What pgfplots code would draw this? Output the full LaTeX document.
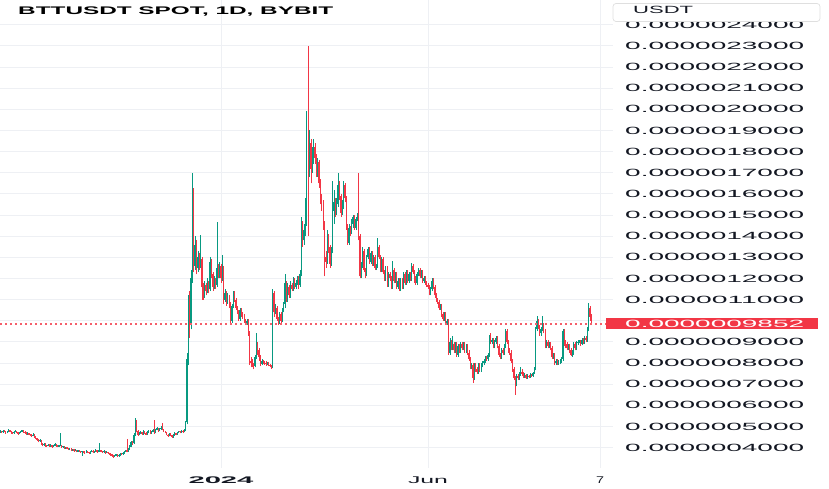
\documentclass[border=0pt]{standalone}
\usepackage{pgfplots}
\usepackage{pgfplotstable}
\pgfplotsset{compat=1.18}
\usepackage{fontspec}
\setmainfont{Liberation Sans}
\usepackage{graphicx}
\definecolor{upc}{HTML}{089981}
\definecolor{dnc}{HTML}{F23645}
\definecolor{gridc}{HTML}{EEF0F4}
\definecolor{txtc}{HTML}{131722}

% daily candles: open high low close (price in units of 1e-7 USDT); first row = day -162 (2024-01-01 = day 0)
\pgfplotstableread[row sep=\\]{
o h l c\\
4.74 4.82 4.71 4.78\\ 4.78 4.80 4.69 4.72\\ 4.72 4.84 4.70 4.80\\ 4.80 4.83 4.73 4.76\\ 4.76 4.78 4.66 4.70\\ 4.70 4.79 4.68 4.74\\
4.74 4.90 4.72 4.82\\ 4.82 4.85 4.73 4.76\\ 4.76 4.78 4.67 4.70\\ 4.70 4.74 4.63 4.68\\ 4.68 4.78 4.66 4.74\\ 4.74 4.83 4.72 4.78\\
4.78 4.80 4.69 4.72\\ 4.72 4.74 4.62 4.66\\ 4.66 4.75 4.64 4.70\\ 4.70 4.80 4.68 4.76\\ 4.76 4.86 4.74 4.80\\ 4.80 4.82 4.71 4.74\\
4.74 4.77 4.66 4.70\\ 4.70 4.72 4.60 4.64\\ 4.64 4.73 4.62 4.68\\ 4.68 4.70 4.58 4.62\\ 4.62 4.66 4.55 4.60\\ 4.60 4.63 4.50 4.55\\
4.55 4.68 4.53 4.62\\ 4.62 4.64 4.46 4.50\\ 4.50 4.53 4.40 4.44\\ 4.44 4.47 4.33 4.38\\ 4.38 4.41 4.25 4.30\\ 4.30 4.40 4.27 4.35\\
4.35 4.37 4.15 4.20\\ 4.20 4.23 4.06 4.12\\ 4.12 4.24 4.10 4.18\\ 4.18 4.20 4.05 4.10\\ 4.10 4.14 4.03 4.08\\ 4.08 4.19 4.06 4.14\\
4.14 4.16 4.02 4.06\\ 4.06 4.17 4.04 4.12\\ 4.12 4.14 4.00 4.04\\ 4.04 4.15 4.02 4.10\\ 4.10 4.20 4.08 4.15\\ 4.15 4.17 4.04 4.08\\
4.08 4.11 4.01 4.05\\ 4.05 4.14 4.03 4.10\\ 4.10 4.70 4.06 4.12\\ 4.12 4.14 3.98 4.02\\ 4.02 4.09 3.99 4.05\\ 4.05 4.07 3.94 3.98\\
3.98 4.04 3.95 4.00\\ 4.00 4.03 3.92 3.96\\ 3.96 3.99 3.88 3.92\\ 3.92 3.99 3.89 3.95\\ 3.95 3.97 3.84 3.88\\ 3.88 3.96 3.86 3.92\\
3.92 3.94 3.81 3.85\\ 3.85 3.92 3.83 3.88\\ 3.88 3.90 3.78 3.82\\ 3.82 3.90 3.80 3.86\\ 3.86 3.89 3.80 3.84\\ 3.84 3.86 3.74 3.78\\
3.78 3.86 3.62 3.82\\ 3.82 3.85 3.76 3.80\\ 3.80 3.83 3.72 3.76\\ 3.76 3.87 3.74 3.83\\ 3.83 3.86 3.75 3.79\\ 3.79 3.81 3.70 3.74\\
3.74 3.84 3.72 3.80\\ 3.80 3.90 3.78 3.85\\ 3.85 3.87 3.74 3.78\\ 3.78 3.86 3.76 3.82\\ 3.82 3.93 3.80 3.88\\ 3.88 3.90 3.76 3.80\\
3.80 3.88 3.78 3.84\\ 3.84 4.22 3.80 3.86\\ 3.86 3.89 3.78 3.82\\ 3.82 3.85 3.74 3.78\\ 3.78 3.88 3.76 3.84\\ 3.84 3.86 3.72 3.76\\
3.76 3.84 3.73 3.80\\ 3.80 3.82 3.70 3.74\\ 3.74 3.77 3.66 3.70\\ 3.70 3.73 3.62 3.66\\ 3.66 3.69 3.58 3.62\\ 3.62 3.65 3.52 3.58\\
3.58 3.66 3.55 3.62\\ 3.62 3.70 3.60 3.66\\ 3.66 3.68 3.56 3.60\\ 3.60 3.68 3.58 3.64\\ 3.64 3.74 3.62 3.70\\ 3.70 3.73 3.64 3.68\\
3.68 3.78 3.66 3.74\\ 3.74 3.84 3.72 3.80\\ 3.80 3.90 3.78 3.86\\ 3.86 4.40 3.78 3.82\\ 3.82 3.98 3.80 3.92\\ 3.92 4.12 3.90 4.05\\
4.05 4.32 4.02 4.25\\ 4.25 4.30 4.14 4.20\\ 4.20 4.70 4.18 4.60\\ 4.60 5.42 4.55 5.25\\ 5.25 5.30 4.72 4.80\\ 4.80 4.86 4.56 4.62\\
4.62 4.75 4.58 4.68\\ 4.68 4.78 4.64 4.72\\ 4.72 4.75 4.60 4.65\\ 4.65 4.84 4.62 4.78\\ 4.78 4.81 4.66 4.70\\ 4.70 4.73 4.58 4.62\\
4.62 4.80 4.60 4.74\\ 4.74 4.86 4.70 4.80\\ 4.80 4.83 4.64 4.68\\ 4.68 4.80 4.65 4.75\\ 4.75 4.88 4.72 4.82\\ 4.82 5.31 4.66 4.70\\
4.70 4.90 4.68 4.85\\ 4.85 4.98 4.82 4.92\\ 4.92 4.95 4.76 4.80\\ 4.80 4.93 4.77 4.88\\ 4.88 5.01 4.85 4.95\\ 4.95 5.17 4.82 4.86\\
4.86 4.89 4.74 4.78\\ 4.78 4.81 4.68 4.72\\ 4.72 4.75 4.58 4.62\\ 4.62 4.65 4.50 4.55\\ 4.55 4.71 4.53 4.66\\ 4.66 4.69 4.54 4.58\\
4.58 4.61 4.46 4.50\\ 4.50 4.65 4.48 4.60\\ 4.60 4.73 4.57 4.68\\ 4.68 4.71 4.58 4.62\\ 4.62 4.75 4.60 4.70\\ 4.70 4.81 4.68 4.76\\
4.76 4.79 4.68 4.72\\ 4.72 4.85 4.70 4.80\\ 4.80 4.83 4.70 4.74\\ 4.74 4.88 4.72 4.82\\ 4.82 5.26 4.78 5.20\\
5.20 8.50 5.10 8.20\\ 8.20 11.20 7.90 11.00\\ 11.00 11.40 9.20 9.80\\ 9.80 12.40 9.60 12.00\\ 12.00 17.00 11.80 16.00\\ 16.00 16.30 12.30 12.60\\
12.60 14.00 12.40 13.60\\ 13.60 13.80 12.20 12.50\\ 12.50 13.30 12.30 13.00\\ 13.00 13.20 12.40 12.70\\ 12.70 14.05 12.50 12.90\\ 12.90 13.00 11.00 11.60\\
11.60 11.80 11.00 11.30\\ 11.30 11.90 11.10 11.70\\ 11.70 11.80 11.20 11.40\\ 11.40 12.00 11.30 11.80\\ 11.80 11.90 11.30 11.50\\ 11.50 13.00 11.40 12.80\\
12.80 12.90 12.00 12.20\\ 12.20 12.30 11.40 11.60\\ 11.60 12.10 11.50 11.90\\ 11.90 12.00 11.50 11.70\\ 11.70 14.65 11.60 12.50\\ 12.50 12.70 12.00 12.20\\
12.20 12.80 12.00 12.60\\ 12.60 12.70 11.80 12.00\\ 12.00 13.10 11.90 12.50\\ 12.50 12.60 10.80 11.00\\ 11.00 11.50 10.90 11.30\\ 11.30 11.40 10.70 10.90\\
10.90 11.30 10.80 11.10\\ 11.10 11.20 10.60 10.80\\ 10.80 10.90 9.85 10.00\\ 10.00 10.80 9.90 10.70\\ 10.70 11.40 10.60 11.30\\ 11.30 11.40 10.90 11.00\\
11.00 11.10 10.50 10.60\\ 10.60 10.70 10.30 10.40\\ 10.40 10.50 10.00 10.10\\ 10.10 10.60 10.00 10.50\\ 10.50 10.60 10.20 10.30\\ 10.30 10.40 10.10 10.20\\
10.20 10.30 9.90 10.00\\ 10.00 10.10 9.80 9.90\\ 9.90 10.10 9.80 10.00\\ 10.00 10.10 9.30 9.40\\ 9.40 9.50 7.90 8.10\\ 8.10 8.30 7.80 8.00\\
8.00 8.20 7.80 7.90\\ 7.90 8.00 7.70 7.85\\ 7.85 8.40 7.80 8.30\\ 8.30 9.40 8.20 8.90\\ 8.90 9.00 8.40 8.60\\ 8.60 8.70 8.10 8.30\\
8.30 8.40 7.85 7.95\\ 7.95 8.20 7.90 8.10\\ 8.10 8.15 7.95 8.05\\ 8.05 8.10 7.92 8.00\\ 8.00 8.08 7.88 7.95\\ 7.95 8.06 7.90 8.00\\
8.00 8.05 7.84 7.90\\ 7.90 7.95 7.80 7.85\\ 7.85 7.90 7.72 7.78\\ 7.78 11.50 7.75 11.30\\ 11.30 11.40 10.20 10.40\\ 10.40 10.80 10.30 10.60\\
10.60 10.70 10.00 10.10\\ 10.10 10.20 9.80 9.90\\ 9.90 10.40 9.85 10.30\\ 10.30 10.40 9.90 10.00\\ 10.00 10.60 9.95 10.50\\ 10.50 10.90 10.40 10.80\\
10.80 12.20 10.60 11.80\\ 11.80 11.90 10.90 11.00\\ 11.00 11.80 10.90 11.60\\ 11.60 11.70 11.10 11.20\\ 11.20 11.90 11.10 11.70\\ 11.70 11.80 11.40 11.50\\
11.50 12.05 11.40 11.90\\ 11.90 12.00 11.50 11.60\\ 11.60 11.95 11.50 11.80\\ 11.80 12.10 11.70 12.00\\ 12.00 12.10 11.50 11.70\\ 11.70 12.40 11.60 12.20\\
12.20 14.90 12.10 14.60\\ 14.60 14.70 13.50 13.80\\ 13.80 14.60 13.60 14.30\\ 14.30 15.80 14.00 15.60\\ 15.60 19.90 14.50 19.60\\ 19.60 23.00 14.00 17.50\\
17.50 19.00 16.80 18.40\\ 18.40 18.60 16.50 17.20\\ 17.20 18.20 17.00 17.60\\ 17.60 18.60 17.40 18.20\\ 18.20 18.40 17.40 17.70\\ 17.70 17.90 16.80 17.00\\
17.00 17.70 16.80 17.50\\ 17.50 17.60 16.30 16.50\\ 16.50 16.70 15.50 15.80\\ 15.80 16.00 15.20 15.50\\ 15.50 15.70 14.30 14.50\\ 14.50 14.70 12.10 13.00\\
13.00 13.30 12.50 12.80\\ 12.80 14.30 12.70 13.90\\ 13.90 14.10 13.20 13.50\\ 13.50 13.60 12.50 12.70\\ 12.70 13.50 12.60 13.30\\ 13.30 16.60 13.20 15.20\\
15.20 16.20 14.60 15.60\\ 15.60 15.80 14.90 15.20\\ 15.20 15.80 15.00 15.50\\ 15.50 17.00 15.40 16.40\\ 16.40 16.60 15.70 15.90\\ 15.90 16.00 14.90 15.10\\
15.10 15.70 15.00 15.40\\ 15.40 16.60 15.30 16.40\\ 16.40 16.50 15.60 15.80\\ 15.80 15.90 14.30 14.50\\ 14.50 14.60 13.60 13.70\\ 13.70 14.60 13.60 14.40\\
14.40 14.50 14.00 14.20\\ 14.20 14.80 14.10 14.60\\ 14.60 15.00 14.40 14.90\\ 14.90 15.00 14.30 14.40\\ 14.40 14.90 14.30 14.80\\ 14.80 15.10 14.70 15.00\\
15.00 17.00 13.80 14.00\\ 14.00 14.10 12.00 12.10\\ 12.10 12.80 12.00 12.60\\ 12.60 13.50 12.50 13.30\\ 13.30 13.40 12.30 12.40\\ 12.40 12.50 12.00 12.20\\
12.20 13.10 12.10 13.00\\ 13.00 13.50 12.90 13.40\\ 13.40 13.50 12.70 12.80\\ 12.80 13.30 12.70 13.20\\ 13.20 13.30 12.60 12.70\\ 12.70 13.10 12.60 13.00\\
13.00 13.10 12.40 12.50\\ 12.50 12.70 12.40 12.60\\ 12.60 13.90 12.50 13.50\\ 13.50 13.60 12.90 13.00\\ 13.00 13.10 12.30 12.40\\ 12.40 13.00 12.30 12.90\\
12.90 13.00 12.20 12.30\\ 12.30 12.40 11.90 12.00\\ 12.00 12.60 11.90 12.50\\ 12.50 12.60 11.60 11.70\\ 11.70 12.30 11.60 12.20\\ 12.20 12.30 11.90 12.00\\
12.00 12.10 11.50 11.60\\ 11.60 12.85 11.50 12.40\\ 12.40 12.50 11.80 11.90\\ 11.90 12.30 11.80 12.20\\ 12.20 12.30 11.50 11.60\\ 11.60 12.00 11.50 11.90\\
11.90 12.00 11.40 11.50\\ 11.50 12.00 11.40 11.90\\ 11.90 12.00 11.50 11.60\\ 11.60 12.30 11.50 12.20\\ 12.20 12.30 11.70 11.80\\ 11.80 12.40 11.70 12.30\\
12.30 12.40 11.80 11.90\\ 11.90 12.30 11.80 12.20\\ 12.20 12.30 11.90 12.00\\ 12.00 12.75 11.90 12.60\\ 12.60 12.70 12.20 12.30\\ 12.30 12.40 11.80 12.00\\
12.00 12.10 11.70 11.80\\ 11.80 12.30 11.70 12.20\\ 12.20 12.50 12.10 12.40\\ 12.40 12.50 12.00 12.10\\ 12.10 12.40 12.00 12.30\\ 12.30 12.40 11.80 11.90\\
11.90 12.10 11.80 12.00\\ 12.00 12.10 11.70 11.80\\ 11.80 11.90 11.60 11.70\\ 11.70 11.80 11.50 11.60\\ 11.60 11.70 11.20 11.30\\ 11.30 11.60 11.20 11.50\\
11.50 12.00 11.40 11.90\\ 11.90 12.00 11.50 11.60\\ 11.60 11.70 11.10 11.20\\ 11.20 11.30 10.90 11.00\\ 11.00 11.10 10.80 10.90\\ 10.90 11.00 10.50 10.60\\
10.60 10.80 10.50 10.70\\ 10.70 10.80 10.20 10.30\\ 10.30 10.40 10.00 10.10\\ 10.10 10.40 10.00 10.30\\ 10.30 10.40 9.80 9.90\\ 9.90 10.10 9.80 10.00\\
10.00 10.10 8.40 8.50\\ 8.50 9.20 8.40 9.00\\ 9.00 9.10 8.60 8.70\\ 8.70 9.30 8.60 8.90\\ 8.90 9.00 8.50 8.60\\ 8.60 9.00 8.50 8.90\\
8.90 9.00 8.30 8.40\\ 8.40 8.90 8.30 8.80\\ 8.80 8.90 8.50 8.60\\ 8.60 9.00 8.50 8.90\\ 8.90 9.00 8.60 8.70\\ 8.70 9.00 8.60 8.90\\
8.90 9.00 8.50 8.60\\ 8.60 8.90 8.50 8.80\\ 8.80 8.90 8.40 8.50\\ 8.50 8.60 8.10 8.20\\ 8.20 8.30 7.70 7.80\\ 7.80 8.00 7.70 7.90\\
7.90 8.00 7.05 7.30\\ 7.30 8.00 7.20 7.90\\ 7.90 8.00 7.60 7.70\\ 7.70 7.80 7.50 7.60\\ 7.60 8.00 7.50 7.90\\ 7.90 8.00 7.60 7.70\\
7.70 8.00 7.60 7.90\\ 7.90 8.10 7.80 8.00\\ 8.00 8.20 7.90 8.10\\ 8.10 8.35 8.00 8.25\\ 8.25 8.35 8.10 8.20\\ 8.20 8.50 8.10 8.40\\
8.40 9.35 8.30 9.30\\ 9.30 9.40 8.90 9.00\\ 9.00 9.20 8.90 9.10\\ 9.10 9.20 8.70 8.80\\ 8.80 9.10 8.70 9.00\\ 9.00 9.30 8.90 9.20\\
9.20 9.30 8.70 8.80\\ 8.80 8.90 8.30 8.40\\ 8.40 8.50 8.20 8.30\\ 8.30 8.70 8.20 8.60\\ 8.60 8.70 8.40 8.50\\ 8.50 8.90 8.40 8.80\\
8.80 9.60 8.70 9.50\\ 9.50 9.60 8.90 9.00\\ 9.00 9.10 8.50 8.60\\ 8.60 8.70 8.40 8.50\\ 8.50 8.60 8.00 8.10\\ 8.10 8.20 7.60 7.70\\
7.70 7.80 7.20 7.30\\ 7.30 7.40 6.50 7.00\\ 7.00 7.50 6.90 7.40\\ 7.40 7.50 7.20 7.30\\ 7.30 7.60 7.20 7.50\\ 7.50 7.80 7.40 7.60\\
7.60 7.70 7.40 7.50\\ 7.50 7.60 7.30 7.35\\ 7.35 7.55 7.30 7.45\\ 7.45 7.50 7.25 7.30\\ 7.30 7.50 7.25 7.40\\ 7.40 7.45 7.28 7.35\\
7.35 7.52 7.30 7.45\\ 7.45 7.50 7.33 7.40\\ 7.40 7.60 7.35 7.55\\ 7.55 7.80 7.50 7.70\\ 7.70 9.70 7.65 9.60\\ 9.60 10.25 9.50 10.00\\
10.00 10.10 9.60 9.70\\ 9.70 9.80 9.30 9.40\\ 9.40 9.70 9.30 9.60\\ 9.60 10.25 9.50 9.80\\ 9.80 9.90 9.40 9.50\\ 9.50 9.60 8.70 8.80\\
8.80 9.10 8.70 9.00\\ 9.00 9.10 8.70 8.80\\ 8.80 9.00 8.70 8.90\\ 8.90 9.00 8.60 8.70\\ 8.70 8.80 8.20 8.30\\ 8.30 8.50 8.20 8.40\\
8.40 8.50 7.90 8.00\\ 8.00 8.20 7.90 8.10\\ 8.10 8.20 7.90 8.00\\ 8.00 8.15 7.92 8.05\\ 8.05 8.20 7.95 8.10\\ 8.10 8.30 8.00 8.20\\
8.20 9.60 8.10 9.50\\ 9.50 9.60 8.80 9.00\\ 9.00 9.10 8.70 8.90\\ 8.90 9.00 8.60 8.70\\ 8.70 8.90 8.60 8.80\\ 8.80 8.90 8.50 8.60\\
8.60 8.70 8.35 8.40\\ 8.40 8.60 8.30 8.50\\ 8.50 9.00 8.40 8.90\\ 8.90 9.00 8.60 8.70\\ 8.70 9.05 8.60 8.95\\ 8.95 9.10 8.85 9.00\\
9.00 9.10 8.95 9.05\\ 9.05 9.10 8.80 8.90\\ 8.90 9.20 8.85 9.10\\ 9.10 9.20 8.90 9.00\\ 9.00 9.30 8.90 9.20\\ 9.20 9.30 9.00 9.10\\
9.10 9.70 9.00 9.60\\ 9.60 10.85 9.50 10.60\\ 10.60 10.70 10.00 10.20\\ 10.20 10.30 9.80 9.852\\
}\candles

\newcommand{\pl}[1]{\resizebox{179pt}{7.3pt}{#1}}

\begin{document}
\begin{tikzpicture}[x=1pt,y=1pt]
\path[use as bounding box] (0,0) rectangle (829,489);
\begin{axis}[
  at={(0pt,21pt)}, anchor=south west,
  scale only axis, width=613pt, height=468pt,
  xmin=-162.26, xmax=287.8, ymin=3.04, ymax=25.168,
  axis line style={draw=none},
  major tick length=0pt,
  ytick={4,5,...,24},
  yticklabels={\pl{0.0000004000},\pl{0.0000005000},\pl{0.0000006000},\pl{0.0000007000},\pl{0.0000008000},\pl{0.0000009000},{},\pl{0.0000011000},\pl{0.0000012000},\pl{0.0000013000},\pl{0.0000014000},\pl{0.0000015000},\pl{0.0000016000},\pl{0.0000017000},\pl{0.0000018000},\pl{0.0000019000},\pl{0.0000020000},\pl{0.0000021000},\pl{0.0000022000},\pl{0.0000023000},\pl{0.0000024000}},
  yticklabel pos=right,
  yticklabel style={anchor=west, inner sep=0pt, xshift=12pt, text=txtc},
  xtick={0,152,278.3},
  xticklabels={\resizebox{65pt}{6.7pt}{\bfseries 2024},\resizebox{40pt}{6.7pt}{Jun},\resizebox{8pt}{6.7pt}{7}},
  xticklabel style={anchor=base, inner sep=0pt, yshift=-15.3pt, text=txtc},
  grid=major, grid style={gridc, line width=0.9pt},
  restrict y to domain=0:100,
]
% wicks
\addplot[draw=none, mark=none, error bars/.cd, y dir=plus, y explicit,
  error bar style={draw=upc, line width=0.65pt}, error mark=none]
  table[x expr=\coordindex-162, y expr={\thisrow{c}>=\thisrow{o} ? \thisrow{l} : -1000}, y error expr={\thisrow{h}-\thisrow{l}}] {\candles};
\addplot[draw=none, mark=none, error bars/.cd, y dir=plus, y explicit,
  error bar style={draw=dnc, line width=0.65pt}, error mark=none]
  table[x expr=\coordindex-162, y expr={\thisrow{c}<\thisrow{o} ? \thisrow{l} : -1000}, y error expr={\thisrow{h}-\thisrow{l}}] {\candles};
% bodies
\addplot[draw=none, mark=none, error bars/.cd, y dir=plus, y explicit,
  error bar style={draw=upc, line width=1.3pt}, error mark=none]
  table[x expr=\coordindex-162, y expr={\thisrow{c}>=\thisrow{o} ? \thisrow{o} : -1000}, y error expr={max(\thisrow{c}-\thisrow{o},0.06)}] {\candles};
\addplot[draw=none, mark=none, error bars/.cd, y dir=plus, y explicit,
  error bar style={draw=dnc, line width=1.3pt}, error mark=none]
  table[x expr=\coordindex-162, y expr={\thisrow{c}<\thisrow{o} ? \thisrow{c} : -1000}, y error expr={max(\thisrow{o}-\thisrow{c},0.06)}] {\candles};
% last price line
\addplot[dnc!80, line width=1.6pt, dash pattern=on 1.6pt off 3.4pt] coordinates {(-162.26,9.852) (282.7,9.852)};
\end{axis}
% title
\node[anchor=base west, inner sep=0pt] at (18,474) {\resizebox{315pt}{7.7pt}{\bfseries BTTUSDT SPOT, 1D, BYBIT}};
% currency box
\draw[draw=gray!25, fill=white, rounded corners=3pt, line width=0.7pt] (613,467.5) rectangle (820,485.5);
\node[anchor=base west, inner sep=0pt, text=txtc] at (633,475) {\resizebox{60pt}{7.3pt}{USDT}};
% last price label
\fill[dnc] (606,159.7) rectangle (818,170.7);
\node[anchor=west, inner sep=0pt, text=white] at (625,165.2) {\pl{0.0000009852}};
\end{tikzpicture}
\end{document}
